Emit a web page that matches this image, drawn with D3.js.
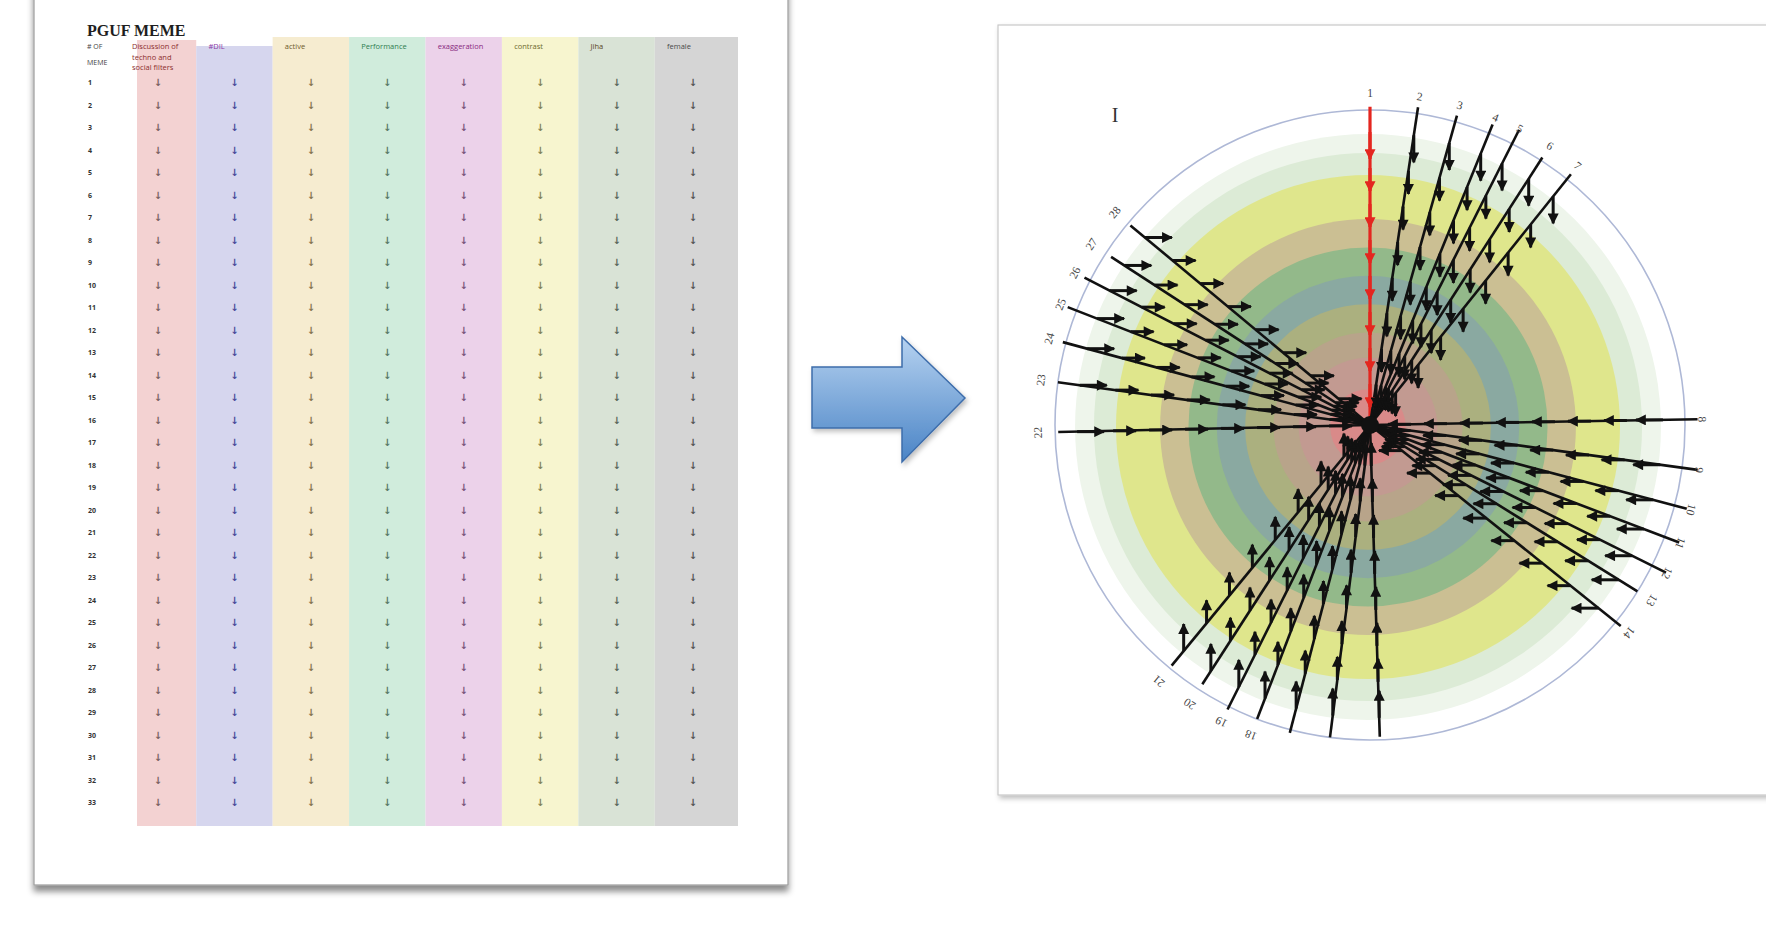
<html><head>
<script src="https://cdnjs.cloudflare.com/ajax/libs/d3/7.8.5/d3.min.js"></script>
<style>
  body { margin: 0; background: #fff; overflow: hidden; }
  svg { display: block; }
</style>
</head>
<body>
<svg id="chart" width="1766" height="931"></svg>
<script>
// ---- data ----
// table on the left page
const columns = ["Discussion of techno and social filters", "#DIL", "active", "Performance", "exaggeration", "contrast", "Jiha", "female"];
const memeRows = [1, 2, 3, 4, 5, 6, 7, 8, 9, 10, 11, 12, 13, 14, 15, 16, 17, 18, 19, 20, 21, 22, 23, 24, 25, 26, 27, 28, 29, 30, 31, 32, 33];

// wheel on the right: spoke number, angle (deg clockwise from top), reach (outer circle = 100)
const spokeLabels = [1, 2, 3, 4, 5, 6, 7, 8, 9, 10, 11, 12, 13, 14, 15, 16, 17, 18, 19, 20, 21, 22, 23, 24, 25, 26, 27, 28];
const spokeAngles = [0, 8.6, 15.7, 22.2, 26.8, 32.8, 38.7, 89, 97.8, 104.8, 110.8, 116.5, 121.9, 128.7,
                     178.2, 187.3, 194.6, 201, 206.6, 212.9, 219.5, 268.7, 277.8, 285.1, 291.3, 297.3, 303, 309.8];
const spokeReach = [101, 102, 102, 103, 105, 101, 102, 104, 105, 104, 105, 105, 100, 102,
                    99, 100, 101, 100, 101, 98, 99, 99, 100, 101, 103, 102, 98, 99];

// concentric colour rings, outer to inner (outer circle = 100)
const ringLevels = [93, 87, 80, 66, 57, 48, 39, 30, 22, 12];

// ---- styles ----
const columnFills = ["#f3d2d2", "#d6d6ee", "#f6ecd0", "#d0ecdc", "#ecd2ea", "#f7f5cf", "#d9e3d6", "#d5d5d5"];
const headerColors = ["#8b2e2e", "#8a3aa6", "#6e5a2c", "#2f7d50", "#8a2a80", "#6e6a2e", "#5a4620", "#4a4a4a"];
const glyphColors = ["#7a6262", "#4a4a9a", "#857550", "#5a7a68", "#7a567a", "#828256", "#5a685a", "#555"];
const ringColors = ["#eef5eb", "#dcebd6", "#dfe68c", "#cbbf93", "#93b98a", "#8aa9a1", "#abb07f", "#b8a48a", "#c29a91", "#d98a89"];

const svg = d3.select("#chart");
const defs = svg.append("defs");

const shadow = defs.append("filter").attr("id", "pageShadow")
  .attr("x", "-5%").attr("y", "-5%").attr("width", "110%").attr("height", "115%");
shadow.append("feDropShadow").attr("dx", 0).attr("dy", 6).attr("stdDeviation", 3)
  .attr("flood-color", "#000").attr("flood-opacity", 0.45);

const softShadow = defs.append("filter").attr("id", "softShadow")
  .attr("x", "-10%").attr("y", "-10%").attr("width", "130%").attr("height", "130%");
softShadow.append("feDropShadow").attr("dx", 2).attr("dy", 3).attr("stdDeviation", 2.5)
  .attr("flood-color", "#000").attr("flood-opacity", 0.25);

const blueGrad = defs.append("linearGradient").attr("id", "blueGrad")
  .attr("x1", 0).attr("y1", 0).attr("x2", 0).attr("y2", 1);
blueGrad.append("stop").attr("offset", "0%").attr("stop-color", "#b6d2f0");
blueGrad.append("stop").attr("offset", "100%").attr("stop-color", "#4a84c6");

function addMarker(id, color) {
  defs.append("marker").attr("id", id)
    .attr("viewBox", "0 0 10 10").attr("refX", 9).attr("refY", 5)
    .attr("markerUnits", "userSpaceOnUse").attr("markerWidth", 12).attr("markerHeight", 11)
    .attr("orient", "auto")
    .append("path").attr("d", "M0,0 L10,5 L0,10 Z").attr("fill", color);
}
addMarker("headBlack", "#111");
addMarker("headRed", "#e4261f");

// ================= left page: the table =================
const page = svg.append("g");
page.append("rect")
  .attr("x", 34).attr("y", -20).attr("width", 754).attr("height", 905)
  .attr("fill", "#fff").attr("stroke", "#9c9c9c").attr("stroke-width", 1.2)
  .attr("filter", "url(#pageShadow)");

const colX = d3.scalePoint().domain(columns).range([158, 693]);
const step = colX.step();
const rowY = d3.scaleLinear().domain([1, 33]).range([82, 802]);
const colTop = i => i === 1 ? 46 : (i === 0 ? 40 : 37);

page.selectAll("rect.col").data(columns).join("rect")
  .attr("class", "col")
  .attr("x", d => Math.max(137, colX(d) - step / 2))
  .attr("width", d => Math.min(738, colX(d) + step / 2 + (d === "female" ? 7 : 0)) - Math.max(137, colX(d) - step / 2))
  .attr("y", (d, i) => colTop(i))
  .attr("height", (d, i) => 826 - colTop(i))
  .attr("fill", (d, i) => columnFills[i]);

page.append("text")
  .attr("x", 87).attr("y", 36)
  .attr("font-family", "Liberation Serif, DejaVu Serif, serif")
  .attr("font-weight", "bold").attr("font-size", 16).attr("fill", "#1e1e1e")
  .text("PGUF MEME");

const smallFont = "Open Sans, DejaVu Sans, sans-serif";
page.append("text").attr("x", 87).attr("y", 49)
  .attr("font-family", smallFont).attr("font-size", 7).attr("fill", "#444").text("# OF");
page.append("text").attr("x", 87).attr("y", 65)
  .attr("font-family", smallFont).attr("font-size", 7).attr("fill", "#444").text("MEME");

function wrapWords(name) {
  const words = name.split(" ");
  const lines = [];
  let cur = "";
  words.forEach(w => {
    if (cur && (cur + " " + w).length > 14) { lines.push(cur); cur = w; }
    else cur = cur ? cur + " " + w : w;
  });
  lines.push(cur);
  return lines;
}

page.selectAll("text.head").data(columns).join("text")
  .attr("class", "head")
  .attr("x", d => colX(d) - 26)
  .attr("y", 49)
  .attr("font-family", smallFont).attr("font-size", 7.5)
  .attr("fill", (d, i) => headerColors[i])
  .selectAll("tspan").data(d => wrapWords(d)).join("tspan")
  .attr("x", function () { return d3.select(this.parentNode).attr("x"); })
  .attr("dy", (d, i) => i === 0 ? 0 : 10.5)
  .text(d => d);

page.selectAll("text.rowlab").data(memeRows).join("text")
  .attr("class", "rowlab")
  .attr("x", 88).attr("y", d => rowY(d) + 3)
  .attr("font-family", smallFont).attr("font-size", 7).attr("font-weight", "bold")
  .attr("fill", "#333").text(d => d);

const cells = [];
memeRows.forEach(r => columns.forEach((c, i) => cells.push({ r, c, i })));
page.selectAll("text.cell").data(cells).join("text")
  .attr("class", "cell")
  .attr("x", d => colX(d.c)).attr("y", d => rowY(d.r) + 4)
  .attr("text-anchor", "middle")
  .attr("font-family", "DejaVu Sans, sans-serif").attr("font-size", 10).attr("font-weight", "bold")
  .attr("fill", d => glyphColors[d.i])
  .text("\u2193");

// ================= the blue block arrow =================
svg.append("path")
  .attr("d", "M812,367 L902,367 L902,337 L965,398 L902,462 L902,428 L812,428 Z")
  .attr("fill", "url(#blueGrad)").attr("stroke", "#3d6dab").attr("stroke-width", 1.5)
  .attr("stroke-linejoin", "miter").attr("filter", "url(#softShadow)");

// ================= right panel: the wheel =================
svg.append("rect")
  .attr("x", 998).attr("y", 25).attr("width", 800).attr("height", 770)
  .attr("fill", "#fff").attr("stroke", "#c9c9c9").attr("stroke-width", 1.2)
  .attr("filter", "url(#softShadow)");

defs.append("clipPath").attr("id", "wheelClip")
  .append("rect").attr("x", 999).attr("y", 26).attr("width", 767).attr("height", 716);

const cx = 1370, cy = 425, R = 315;
const rScale = d3.scaleLinear().domain([0, 100]).range([0, R]);
const wheel = svg.append("g").attr("clip-path", "url(#wheelClip)");

wheel.selectAll("circle.ring").data(ringLevels).join("circle")
  .attr("class", "ring")
  .attr("cx", cx - 2).attr("cy", cy + 2)
  .attr("r", d => rScale(d))
  .attr("fill", (d, i) => ringColors[i]);

wheel.append("circle")
  .attr("cx", cx).attr("cy", cy).attr("r", rScale(100))
  .attr("fill", "none").attr("stroke", "#aeb8d6").attr("stroke-width", 1.6);

const rad = a => a * Math.PI / 180;
const spokes = spokeLabels.map((n, i) => ({ n, a: spokeAngles[i], reach: spokeReach[i] }));
const pointAt = (a, r) => [cx + r * Math.sin(rad(a)), cy - r * Math.cos(rad(a))];

wheel.selectAll("line.spoke").data(spokes).join("line")
  .attr("class", "spoke")
  .attr("x1", cx).attr("y1", cy)
  .attr("x2", d => pointAt(d.a, rScale(d.reach))[0])
  .attr("y2", d => pointAt(d.a, rScale(d.reach))[1])
  .attr("stroke", d => d.n === 1 ? "#e4261f" : "#111")
  .attr("stroke-width", d => d.n === 1 ? 3.2 : 2.6);

// one short arrow per table column along every spoke, pointing inwards
const glyphR = d3.scalePoint().domain(columns).range([rScale(93), rScale(13)]);
const inward = [[0, 1], [-1, 0], [0, -1], [1, 0]];
const glyphs = [];
spokes.forEach(s => {
  const dir = inward[Math.round(s.a / 90) % 4];
  columns.forEach((c, k) => {
    const p = pointAt(s.a, glyphR(c));
    glyphs.push({ s, p, dir, len: k === 0 ? 27 : 23 });
  });
});
wheel.selectAll("line.glyph").data(glyphs).join("line")
  .attr("class", "glyph")
  .attr("x1", d => d.p[0]).attr("y1", d => d.p[1])
  .attr("x2", d => d.p[0] + d.dir[0] * d.len)
  .attr("y2", d => d.p[1] + d.dir[1] * d.len)
  .attr("stroke", d => d.s.n === 1 ? "#e4261f" : "#111")
  .attr("stroke-width", d => d.s.n === 1 ? 3.2 : 3)
  .attr("marker-end", d => d.s.n === 1 ? "url(#headRed)" : "url(#headBlack)");

wheel.append("circle").attr("cx", cx).attr("cy", cy).attr("r", 9).attr("fill", "#111");

wheel.selectAll("text.spokelab").data(spokes).join("text")
  .attr("class", "spokelab")
  .attr("transform", d => {
    const p = pointAt(d.a, rScale(105.5));
    return `translate(${p[0]},${p[1]}) rotate(${d.a})`;
  })
  .attr("text-anchor", "middle").attr("dy", "0.35em")
  .attr("font-family", "Liberation Serif, DejaVu Serif, serif").attr("font-size", 11.5)
  .attr("fill", "#444")
  .text(d => d.n);

svg.append("text")
  .attr("x", 1115).attr("y", 122).attr("text-anchor", "middle")
  .attr("font-family", "Liberation Serif, DejaVu Serif, serif").attr("font-size", 20)
  .attr("fill", "#333").text("I");
</script>
</body></html>
